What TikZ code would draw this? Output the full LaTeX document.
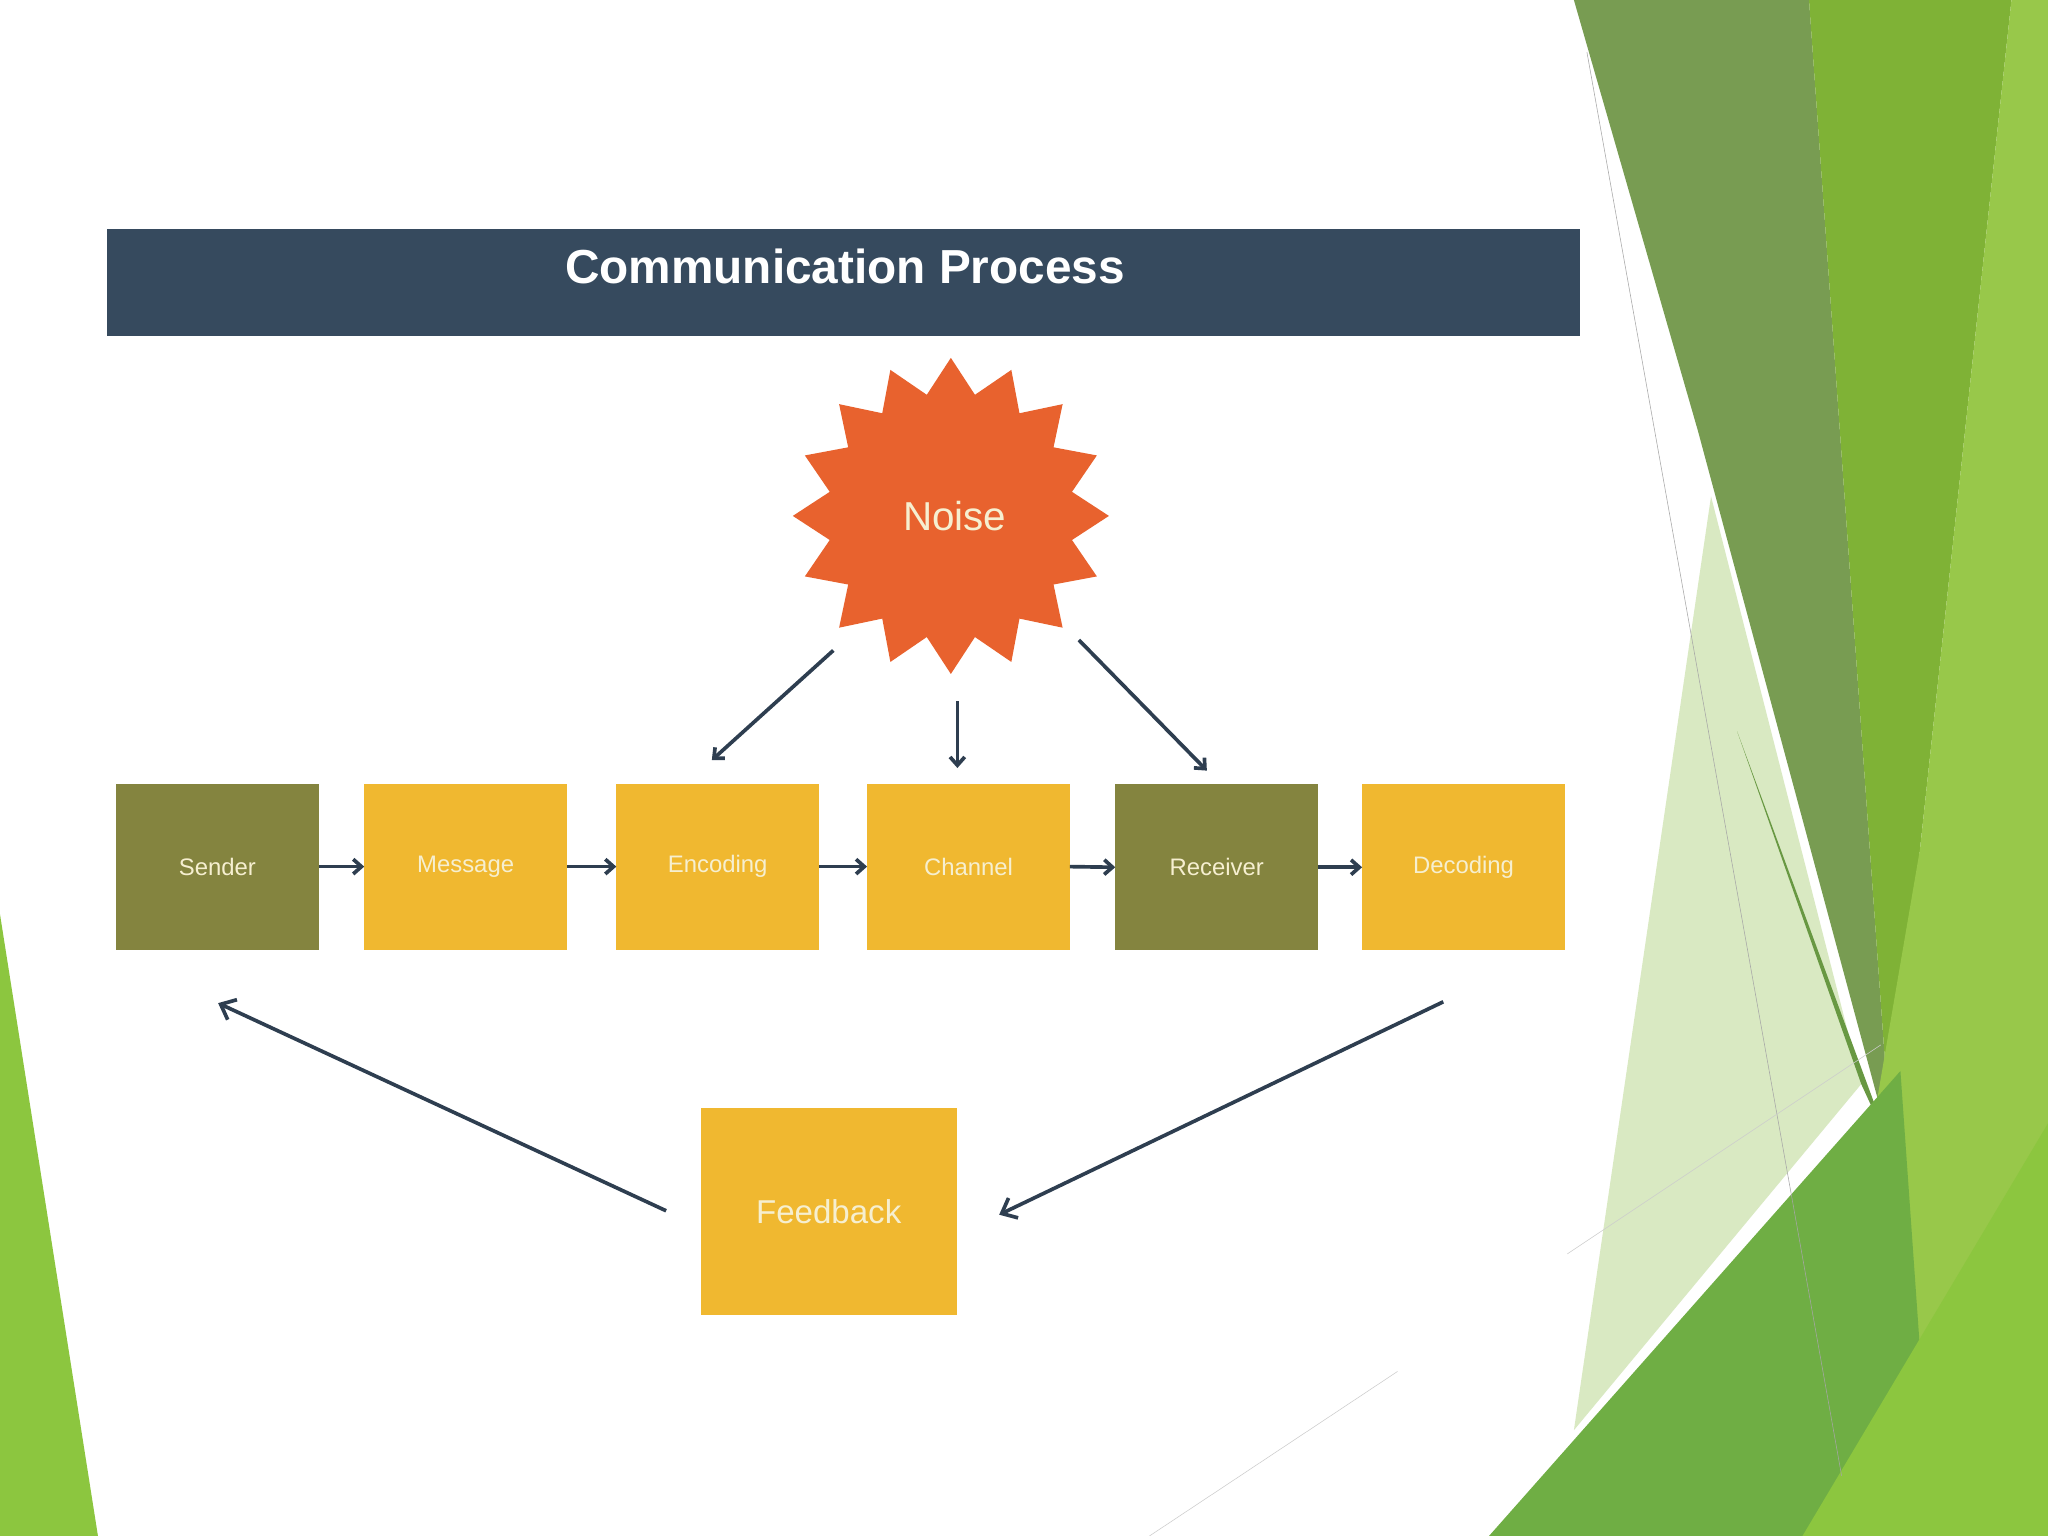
\documentclass[tikz,border=0pt]{standalone}
\usepackage{fontspec}
\setmainfont{Liberation Sans}
\usetikzlibrary{shapes.geometric,arrows.meta}
\definecolor{olive}{HTML}{84843F}
\definecolor{gold}{HTML}{F0B830}
\definecolor{navy}{HTML}{364A5E}
\definecolor{arr}{HTML}{2E3E50}
\definecolor{noise}{HTML}{E8622E}
\definecolor{cream}{HTML}{F6EFD0}
\definecolor{gA}{HTML}{789C52}
\definecolor{gB}{HTML}{7FB236}
\definecolor{gC}{HTML}{98C84A}
\definecolor{gD}{HTML}{D9E9C2}
\definecolor{gE}{HTML}{689842}
\definecolor{gF}{HTML}{6FAE44}
\definecolor{gG}{HTML}{8CC63F}
\begin{document}
\begin{tikzpicture}[x=0.5mm,y=-0.5mm,
  box/.style={rectangle,minimum width=77.5mm,minimum height=63.5mm,inner sep=0pt,text=cream,font=\fontsize{26}{30}\selectfont},
  link/.style={draw=arr,line width=4pt,-{Straight Barb[length=9pt,width=16pt]}},
  big/.style={draw=arr,line width=4pt,-{Straight Barb[length=14pt,width=24pt]}}]
\useasboundingbox (0,0) rectangle (1568,1176);
\fill[white] (0,0) rectangle (1568,1176);
% background greens
\fill[gA] (1205,0)--(1385,0)--(1448,880)--(1300,330)--cycle;
\fill[gB] (1385,0)--(1540,0)--(1470,650)--(1448,880)--cycle;
\fill[gC] (1540,0)--(1568,0)--(1568,1176)--(1380,1176)--(1470,650)--cycle;
\fill[gD] (1310,380)--(1425,830)--(1205,1095)--cycle;
\fill[gE] (1330,560)--(1448,880)--(1425,830)--cycle;
\fill[gF] (1140,1176)--(1455,820)--(1480,1176)--cycle;
\fill[gG] (1380,1176)--(1568,860)--(1568,1176)--cycle;
\fill[gG] (0,700)--(75,1176)--(0,1176)--cycle;
\draw[gray!70,line width=0.6pt] (1215,40)--(1410,1130);
\draw[gray!40,line width=0.6pt] (1200,960)--(1440,800);
\draw[gray!40,line width=0.6pt] (880,1176)--(1070,1050);
% title
\fill[navy] (82,175) rectangle (1210,257);
\node[text=white,font=\bfseries\fontsize{52}{60}\selectfont] (title) at (647,204) {Communication Process};
% noise
\node[star,star points=16,star point ratio=1.28,minimum size=121mm,fill=noise,inner sep=0pt] (noise) at (728,395) {};
\node[text=cream,font=\fontsize{44}{50}\selectfont] (noiselabel) at (731,395) {Noise};
% boxes
\node[box,fill=olive] (sender) at (166.5,663.5) {Sender};
\node[box,fill=gold] (message) at (356.5,663.5) {Message};
\node[box,fill=gold] (encoding) at (549.5,663.5) {Encoding};
\node[box,fill=gold] (channel) at (741.5,663.5) {Channel};
\node[box,fill=olive] (receiver) at (931.5,664) {Receiver};
\node[box,fill=gold] (decoding) at (1120.5,664) {Decoding};
\node[rectangle,fill=gold,minimum width=98mm,minimum height=79mm,inner sep=0pt,text=cream,font=\fontsize{36}{42}\selectfont] (feedback) at (634.5,927.5) {Feedback};
% links
\foreach \a/\b in {sender/message,message/encoding,encoding/channel,channel/receiver,receiver/decoding}
  \draw[link] (\a.east) -- (\b.west);
% noise arrows
\coordinate (n1) at (638,498); \coordinate (e1) at (545,582);
\coordinate (n2) at (733,537); \coordinate (e2) at (733,588);
\coordinate (n3) at (826,490); \coordinate (e3) at (924,590);
\draw[link] (n1)--(e1);
\draw[link] (n2)--(e2);
\draw[link] (n3)--(e3);
% feedback arrows
\coordinate (f1) at (510,927); \coordinate (s1) at (167,768);
\coordinate (d1) at (1105,767); \coordinate (f2) at (765,930);
\draw[big] (f1)--(s1);
\draw[big] (d1)--(f2);
\end{tikzpicture}
\end{document}
